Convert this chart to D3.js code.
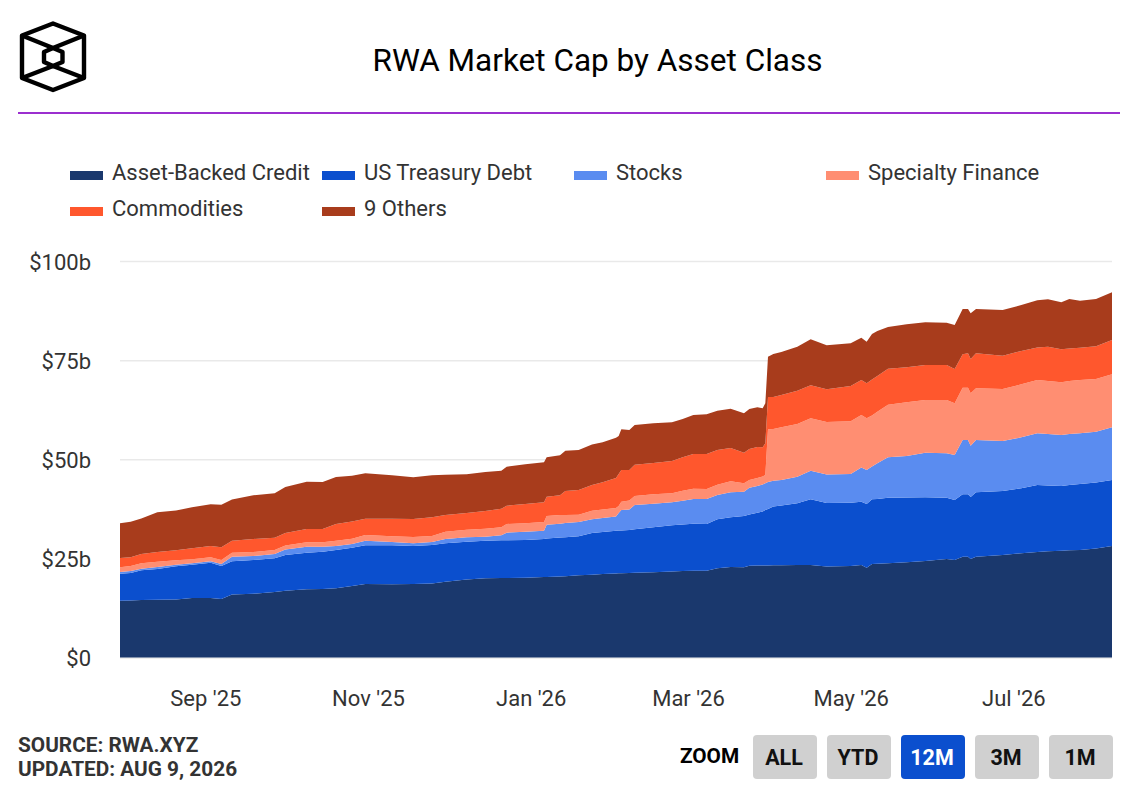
<!DOCTYPE html>
<html><head><meta charset="utf-8">
<script src="https://cdn.jsdelivr.net/npm/d3@7"></script>
<style>html,body{margin:0;background:#fff}svg{display:block}text{font-family:Roboto,sans-serif}</style>
</head><body><svg id="c" width="1128" height="786"></svg>
<script>
const dates=["2025-07-31","2025-08-04","2025-08-08","2025-08-14","2025-08-21","2025-08-27","2025-09-03","2025-09-07","2025-09-11","2025-09-19","2025-09-27","2025-10-01","2025-10-09","2025-10-15","2025-10-20","2025-10-26","2025-10-31","2025-11-10","2025-11-18","2025-11-25","2025-11-30","2025-12-08","2025-12-15","2025-12-21","2025-12-23","2025-12-30","2026-01-06","2026-01-07","2026-01-12","2026-01-14","2026-01-19","2026-01-24","2026-01-28","2026-02-02","2026-02-03","2026-02-04","2026-02-07","2026-02-09","2026-02-16","2026-02-23","2026-02-27","2026-03-03","2026-03-08","2026-03-12","2026-03-17","2026-03-22","2026-03-24","2026-03-27","2026-03-29","2026-03-30","2026-03-31","2026-04-02","2026-04-05","2026-04-11","2026-04-16","2026-04-22","2026-05-01","2026-05-05","2026-05-07","2026-05-09","2026-05-11","2026-05-15","2026-05-22","2026-05-29","2026-06-06","2026-06-09","2026-06-12","2026-06-14","2026-06-15","2026-06-17","2026-06-27","2026-07-04","2026-07-10","2026-07-14","2026-07-19","2026-07-22","2026-07-26","2026-08-01","2026-08-07"];
const assetBacked=[14.32,14.38,14.50,14.58,14.63,15.01,15.01,14.75,15.89,16.09,16.52,16.85,17.20,17.28,17.45,18.03,18.54,18.46,18.54,18.66,19.12,19.67,19.97,20.05,20.05,20.13,20.30,20.30,20.43,20.50,20.73,20.88,21.06,21.18,21.26,21.26,21.31,21.36,21.49,21.69,21.82,21.89,21.89,22.50,22.82,22.75,23.15,23.20,23.20,23.20,23.20,23.25,23.28,23.33,23.33,22.95,23.08,23.33,22.65,23.58,23.66,23.76,24.01,24.34,24.84,24.59,25.42,25.42,24.84,25.42,25.85,26.28,26.61,26.78,26.93,27.04,27.11,27.49,28.12];
const usTreasury=[6.81,6.94,7.49,7.74,8.37,8.40,8.90,8.32,8.37,8.50,8.50,9.00,9.23,9.41,9.66,9.66,9.76,9.84,9.58,9.71,9.68,9.53,9.48,9.51,9.51,9.51,9.58,9.71,9.84,9.84,9.84,10.52,10.59,10.79,10.77,10.77,10.84,10.97,11.35,11.65,11.73,11.85,11.78,12.36,12.53,12.94,12.91,13.32,13.62,14.00,14.25,14.83,15.06,15.56,16.57,16.01,15.96,15.96,16.07,16.32,16.32,16.54,16.34,16.07,15.46,15.13,15.74,15.74,15.64,16.24,16.14,16.39,16.90,16.59,16.32,16.47,16.65,16.65,16.65];
const stocks=[0.43,0.50,0.40,0.50,0.40,0.35,0.35,0.50,1.16,1.01,1.08,1.39,1.51,1.26,1.01,0.93,1.16,0.83,0.68,0.76,1.08,1.11,1.01,1.26,1.92,2.09,2.09,3.48,3.48,3.58,3.61,3.46,3.53,3.58,4.41,5.17,5.17,6.13,5.95,5.80,6.00,6.23,6.31,6.13,6.31,6.13,6.76,6.73,6.81,6.73,6.81,6.51,6.43,6.71,7.21,7.19,7.24,8.63,8.57,8.27,9.00,10.19,10.47,11.25,11.20,11.35,13.69,13.69,12.94,13.19,12.61,12.86,13.04,12.99,12.86,12.86,12.79,12.81,13.29];
const specialty=[1.19,1.26,1.36,1.34,1.11,1.01,1.01,1.01,1.01,1.01,1.01,1.01,1.11,1.11,1.34,1.34,1.44,1.44,1.59,1.51,1.84,1.92,2.02,2.02,2.19,2.12,2.19,2.19,2.19,2.02,1.84,2.17,2.14,2.14,1.77,2.09,2.27,2.27,2.37,2.27,2.52,2.60,2.52,2.60,2.77,2.12,1.94,2.02,2.02,2.09,13.29,13.04,13.29,13.29,13.22,13.24,13.29,13.24,13.04,12.86,13.01,13.27,13.54,13.29,13.44,13.04,13.19,13.19,13.22,13.04,13.11,13.37,13.44,13.37,13.29,13.37,13.44,13.29,13.37];
const commodities=[2.35,2.19,2.35,2.45,2.52,2.77,2.85,3.20,3.03,3.28,3.10,3.15,3.35,3.35,4.21,4.34,4.11,4.44,4.54,4.72,4.21,4.21,4.46,4.69,4.62,4.87,4.97,4.87,4.97,6.05,6.23,6.48,6.86,7.57,8.07,7.99,7.69,7.89,7.89,8.15,8.42,8.75,8.83,8.75,8.40,7.72,7.82,7.82,7.36,7.99,8.15,8.07,8.15,8.40,8.32,8.25,8.90,8.83,8.83,9.08,9.00,9.08,8.83,8.83,8.83,8.65,8.42,8.68,8.65,8.83,8.40,8.40,8.20,8.65,8.32,8.20,8.15,8.25,8.65];
const others=[8.75,8.98,8.95,10.01,10.04,10.34,10.52,10.72,10.39,11.02,11.20,11.60,11.93,11.85,11.85,11.55,11.45,10.97,10.52,10.59,10.16,9.76,9.84,9.58,9.84,10.01,10.09,9.94,10.09,10.16,10.09,10.21,10.09,10.16,9.58,10.26,10.09,10.01,10.01,9.76,9.66,9.84,10.01,9.91,9.91,9.94,10.09,10.01,9.84,10.09,10.16,10.84,10.84,11.10,11.60,11.10,10.77,10.67,10.49,11.48,11.35,10.52,10.84,10.77,10.67,11.10,11.42,11.17,11.53,11.17,11.53,11.60,11.90,11.95,11.85,12.48,11.85,11.93,12.03];
const seriesNames=["Asset-Backed Credit","US Treasury Debt","Stocks","Specialty Finance","Commodities","9 Others"];
const seriesValues=[assetBacked,usTreasury,stocks,specialty,commodities,others];
const colors=["#1a386d","#0b4fce","#5a8cf0","#ff8e72","#ff572d","#a83c1c"];
const yTicks=[0,25,50,75,100];
const xTickDates=["2025-09-01","2025-11-01","2026-01-01","2026-03-01","2026-05-01","2026-07-01"];
const zoomLabels=["ALL","YTD","12M","3M","1M"];
const activeZoom="12M";

const svg=d3.select("#c");
const parse=d3.utcParse("%Y-%m-%d");
const rows=dates.map((d,i)=>{const r={date:parse(d)};seriesNames.forEach((n,k)=>r[n]=seriesValues[k][i]);return r;});
const x=d3.scaleUtc().domain([parse(dates[0]),parse(dates[dates.length-1])]).range([120,1112]);
const y=d3.scaleLinear().domain([0,100]).range([657.5,261]);

// logo
const logo=svg.append("g").attr("fill","none").attr("stroke","#000").attr("stroke-width",4.4).attr("stroke-linejoin","round");
logo.append("path").attr("d","M53 23.5L84 35.5V78L53 90L22 78V35.5Z");
logo.append("path").attr("d","M53 48L62.5 52V62L53 66L44 62V52Z");
logo.append("path").attr("d","M22 35.5L53 48L84 35.5M22 78L53 66L84 78");

svg.append("text").attr("x",597.5).attr("y",71).attr("text-anchor","middle").attr("font-size",31.5).attr("fill","#000").text("RWA Market Cap by Asset Class");
svg.append("rect").attr("x",18).attr("y",112).attr("width",1102).attr("height",2).attr("fill","#9b2fcf");

// legend
const legendX=d3.scaleOrdinal().domain([0,1,2,3]).range([70,322,574,826]);
const lg=svg.append("g").selectAll("g").data(seriesNames).join("g")
 .attr("transform",(d,i)=>`translate(${legendX(i%4)},${i<4?172:208})`);
lg.append("rect").attr("y",-1).attr("width",33).attr("height",9).attr("fill",(d,i)=>colors[i]);
lg.append("text").attr("x",42).attr("y",8).attr("font-size",22).attr("fill","#333").text(d=>d);

// grid + y axis
const yAxis=svg.append("g").attr("transform","translate(120,0)").call(d3.axisLeft(y).tickValues(yTicks).tickSize(0).tickPadding(29).tickFormat(d=>`$${d}${d?"b":""}`));
yAxis.select(".domain").remove();
yAxis.selectAll("text").attr("font-size",22).attr("font-family","Roboto").attr("fill","#333").attr("dy","0.38em");
yAxis.selectAll("line").attr("x2",992).attr("stroke","#e9e9e9").attr("stroke-width",1.5);

// stacked areas
const stack=d3.stack().keys(seriesNames)(rows);
const area=d3.area().x(d=>x(d.data.date)).y0(d=>y(d[0])).y1(d=>y(d[1]));
svg.append("g").selectAll("path").data(stack).join("path").attr("d",area).attr("fill",(d,i)=>colors[i]);

// x axis
const xAxis=svg.append("g").attr("transform","translate(0,657.5)").call(d3.axisBottom(x).tickValues(xTickDates.map(parse)).tickSize(0).tickPadding(33).tickFormat(d3.utcFormat("%b '%y")));
xAxis.select(".domain").remove();
xAxis.selectAll("text").attr("font-size",22).attr("font-family","Roboto").attr("fill","#333");

// footer
const ft=svg.append("g").attr("font-size",20.8).attr("font-weight",700).attr("fill","#333");
ft.append("text").attr("x",18).attr("y",752).text("SOURCE: RWA.XYZ");
ft.append("text").attr("x",18).attr("y",775.5).text("UPDATED: AUG 9, 2026");
svg.append("text").attr("x",709.5).attr("y",763).attr("text-anchor","middle").attr("font-size",20.8).attr("font-weight",700).attr("fill","#000").text("ZOOM");
const zb=d3.scaleBand().domain(zoomLabels).range([753,1113]).paddingInner(10/74).paddingOuter(0);
const b=svg.append("g").selectAll("g").data(zoomLabels).join("g").attr("transform",d=>`translate(${zb(d)},735)`);
b.append("rect").attr("width",zb.bandwidth()).attr("height",44).attr("rx",4).attr("fill",d=>d===activeZoom?"#0b4fce":"#d0d0d0");
b.append("text").attr("x",zb.bandwidth()/2-1).attr("y",30).attr("text-anchor","middle").attr("font-size",21.5).attr("font-weight",700).attr("fill",d=>d===activeZoom?"#fff":"#111").text(d=>d);
</script></body></html>
